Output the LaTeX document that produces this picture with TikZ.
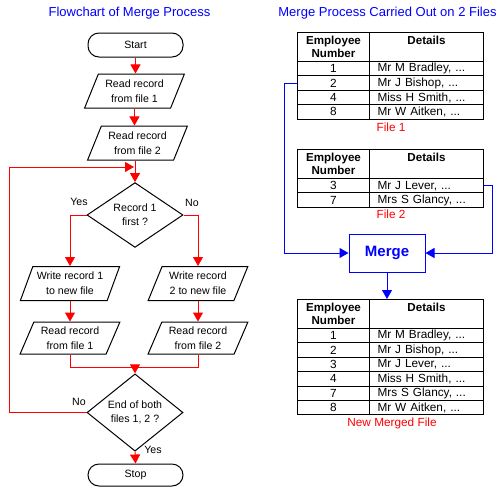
\documentclass[tikz,border=0pt]{standalone}
\usepackage{fontspec}
\setmainfont{Liberation Sans}
\usetikzlibrary{shapes.geometric,arrows.meta}
\definecolor{mblue}{RGB}{0,0,255}
\definecolor{mred}{RGB}{255,0,0}
\newcommand\emphead[2]{%
  \node[headA] (#1a) at (297,#2) {Employee\\Number};
  \node[headB] (#1b) at (369,#2) {Details\\\phantom{N}};}
\newcommand\emprow[4]{%
  \node[cellA] (#1a) at (297,#2) {#3};
  \node[cellB] (#1b) at (369,#2) {#4};}
\begin{document}
\begin{tikzpicture}[x=1pt,y=-1pt,
  fc/.style={font=\fontsize{10.6}{15}\selectfont},
  title/.style={font=\fontsize{13}{15}\selectfont, text=mblue, inner sep=0pt},
  term/.style={draw, line width=1pt, rounded corners=11pt, minimum width=95pt, minimum height=24pt, inner sep=0pt, fc},
  para/.style={draw, line width=1pt, trapezium, trapezium left angle=64, trapezium right angle=116, trapezium stretches=true, minimum width=100pt, minimum height=34pt, inner sep=0pt, align=center, fc},
  dec/.style={draw, line width=1pt, diamond, minimum width=96pt, minimum height=64pt, inner sep=0pt, align=center, font=\fontsize{10.6}{14}\selectfont},
  flow/.style={mred, line width=1pt, -{Triangle[length=9pt,width=10pt]}},
  flowline/.style={mred, line width=1pt},
  bflow/.style={mblue, line width=1pt, -{Triangle[length=9pt,width=10pt]}},
  tab/.style={font=\fontsize{11.8}{13}\selectfont},
  cellA/.style={draw, line width=1pt, anchor=north west, minimum width=72pt, minimum height=14.4pt, inner sep=0pt, tab},
  cellB/.style={draw, line width=1pt, anchor=north west, minimum width=114pt, minimum height=14.4pt, inner xsep=8pt, inner ysep=0pt, text width=98pt, align=left, tab},
  headA/.style={draw, line width=1pt, anchor=north west, minimum width=72pt, minimum height=29pt, inner sep=0pt, align=center, font=\bfseries\fontsize{11.6}{13}\selectfont},
  headB/.style={draw, line width=1pt, anchor=north west, minimum width=114pt, minimum height=29pt, inner sep=0pt, align=center, font=\bfseries\fontsize{11.6}{13}\selectfont},
  captxt/.style={text=mred, font=\fontsize{11.8}{13}\selectfont, inner sep=0pt}
]
\useasboundingbox[fill=white] (0,0) rectangle (502,493);

% titles
\node[title] (tl) at (129.5,13) {Flowchart of Merge Process};
\node[title] (tr) at (387.5,13) {Merge Process Carried Out on 2 Files};

% flowchart
\node[term] (start) at (135.5,45) {Start};
\node[para] (r1) at (134.5,91) {Read record\\from file 1};
\node[para] (r2) at (137.5,143) {Read record\\from file 2};
\node[dec] (d1) at (135,215) {Record 1\\first ?};
\node[para] (w1) at (70,283.5) {Write record 1\\to new file};
\node[para] (w2) at (198,283.5) {Write record\\2 to new file};
\node[para, minimum height=32pt] (r3) at (70,338) {Read record\\from file 1};
\node[para, minimum height=32pt] (r4) at (198,338) {Read record\\from file 2};
\node[dec, minimum height=63pt] (d2) at (135,412.5) {End of both\\files 1, 2 ?};
\node[term, minimum height=22pt] (stop) at (135.5,475) {Stop};

\node[fc] (y1) at (79,202) {Yes};
\node[fc] (n1) at (192,203) {No};
\node[fc] (n2) at (79,402) {No};
\node[fc] (y2) at (153,450) {Yes};

\draw[flow] (start.south) -- (start.south |- r1.north);
\draw[flow] (r1.south) -- (r1.south |- r2.north);
\draw[flow] (d1.north |- r2.south) -- (d1.north);
\draw[flow] (d1.west) -| (w1.north);
\draw[flow] (d1.east) -| (w2.north);
\draw[flow] (w1.south) -- (w1.south |- r3.north);
\draw[flow] (w2.south) -- (w2.south |- r4.north);
\coordinate (jn) at (135,367);
\draw[flowline] (r3.south) -- (r3.south |- jn) -- (r4.south |- jn) -- (r4.south);
\draw[flow] (jn) -- (d2.north);
\coordinate (lx) at (9,167);
\coordinate (lj) at (134,167);
\draw[flow] (d2.west) -- (d2.west -| lx) -- (lx) -- (lj);
\draw[flow] (d2.south) -- (stop.north);

% file 1
\emphead{ta}{32}
\emprow{ta1}{61}{1}{Mr M Bradley, ...}
\emprow{ta2}{75.4}{2}{Mr J Bishop, ...}
\emprow{ta3}{89.8}{4}{Miss H Smith, ...}
\emprow{ta4}{104.2}{8}{Mr W Aitken, ...}
\node[captxt] (c1) at (391,127) {File 1};

% file 2
\emphead{tb}{149}
\emprow{tb1}{178}{3}{Mr J Lever, ...}
\emprow{tb2}{192.4}{7}{Mrs S Glancy, ...}
\node[captxt] (c2) at (391,214) {File 2};

% merge
\node[draw=mblue, line width=1pt, minimum width=76pt, minimum height=38pt, inner sep=0pt, text=mblue, font=\bfseries\fontsize{15}{18}\selectfont] (mg) at (387,253) {Merge};

% merged file
\emphead{tc}{299}
\emprow{tc1}{328}{1}{Mr M Bradley, ...}
\emprow{tc2}{342.4}{2}{Mr J Bishop, ...}
\emprow{tc3}{356.8}{3}{Mr J Lever, ...}
\emprow{tc4}{371.2}{4}{Miss H Smith, ...}
\emprow{tc5}{385.6}{7}{Mrs S Glancy, ...}
\emprow{tc6}{400}{8}{Mr W Aitken, ...}
\node[captxt] (c3) at (392,423) {New Merged File};

\coordinate (bl) at (284,0);
\coordinate (br) at (492,0);
\draw[bflow] (ta2a.west) -- (ta2a.west -| bl) |- (mg.west);
\draw[bflow] (tb1b.east) -- (tb1b.east -| br) |- (mg.east);
\draw[bflow] (mg.south) -- (mg.south |- tca.north);
\end{tikzpicture}
\end{document}
